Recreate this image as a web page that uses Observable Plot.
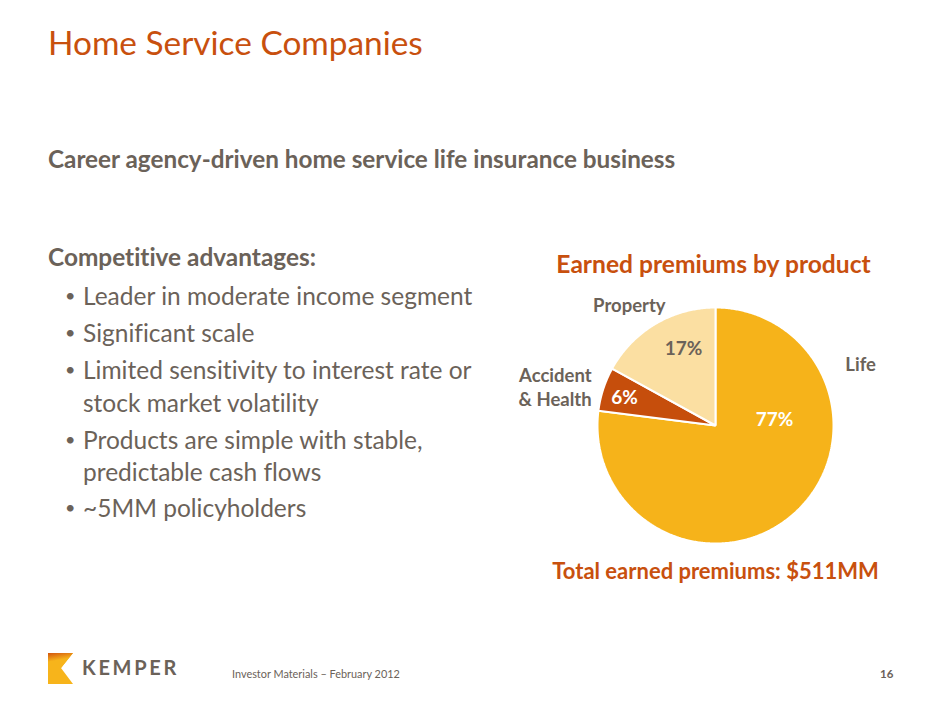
<!DOCTYPE html>
<html>
<head>
<meta charset="utf-8">
<script src="https://cdn.jsdelivr.net/npm/d3@7"></script>
<script src="https://cdn.jsdelivr.net/npm/@observablehq/plot@0.6"></script>
<style>
  html, body { margin: 0; padding: 0; background: #fff; }
  body { width: 940px; height: 705px; position: relative; overflow: hidden; font-family: Lato, "Open Sans", sans-serif; color: #6B6259; font-variant-ligatures: none; }
  .abs { position: absolute; white-space: nowrap; line-height: 1.2; }
  .title { left: 48px; top: 21.7px; font-size: 33.4px; color: #C8500E; font-weight: 400; }
  .sub { left: 48px; top: 143.8px; font-size: 24.3px; font-weight: 700; }
  .head { left: 48px; top: 241.7px; font-size: 24.4px; font-weight: 700; }
  .line { font-size: 24.5px; left: 83px; }
  .bul { font-size: 18px; left: 65px; }
  .ctitle { left: 500px; width: 427px; text-align: center; top: 248.6px; font-size: 24.6px; font-weight: 700; color: #C8500E; }
  .ctot { left: 500px; width: 431px; text-align: center; top: 558.3px; font-size: 22px; font-weight: 700; color: #C8500E; }
  .foot { left: 232px; top: 666.7px; font-size: 10.9px; }
  .page { left: 880px; top: 666.7px; font-size: 11.5px; font-weight: 700; }
  .kemper { left: 82px; top: 655px; font-size: 20px; letter-spacing: 2.7px; font-weight: 700; color: #6B6259; }
  #chart { position: absolute; left: 500px; top: 285px; }
</style>
</head>
<body>
<div class="abs title">Home Service Companies</div>
<div class="abs sub">Career agency-driven home service life insurance business</div>
<div class="abs head">Competitive advantages:</div>
<div id="bullets"></div>
<div class="abs ctitle">Earned premiums by product</div>
<div id="chart"></div>
<div class="abs ctot">Total earned premiums: $511MM</div>
<svg class="abs" style="left:0;top:0" width="80" height="705" viewBox="0 0 80 705">
  <defs>
    <linearGradient id="lg" x1="0" y1="0" x2="0.3" y2="1">
      <stop offset="0" stop-color="#D2540E"/>
      <stop offset="0.55" stop-color="#F7B41B"/>
      <stop offset="1" stop-color="#F7B41B"/>
    </linearGradient>
  </defs>
  <polygon points="48,653 73,653 61,668 73,684 48,684" fill="#F7B41B"/>
  <polygon points="48,653 73,653 61,668 48,668" fill="url(#lg)"/>
</svg>
<div class="abs kemper">KEMPER</div>
<div class="abs foot">Investor Materials – February 2012</div>
<div class="abs page">16</div>
<script>
// ---- data ----
const categories = ["Life", "Accident & Health", "Property"];
const shares = [77, 6, 17];
const pctLabels = ["77%", "6%", "17%"];
const sliceColors = ["#F6B31A", "#C64E0C", "#FBDFA2"];
const bulletLines = [
  ["•", "Leader in moderate income segment"],
  ["•", "Significant scale"],
  ["•", "Limited sensitivity to interest rate or"],
  ["", "stock market volatility"],
  ["•", "Products are simple with stable,"],
  ["", "predictable cash flows"],
  ["•", "~5MM policyholders"]
];

// ---- layout (not data) ----
const bulletCenters = [297, 334, 371, 404, 441, 473, 509];
const R = 118, W = 400, H = 275, CX = 215, CY = 140;
const pctPos = {"Life": [0.5, 0.05], "Accident & Health": [-0.77, 0.23], "Property": [-0.27, 0.65]};
const pctColor = {"Life": "white", "Accident & Health": "white", "Property": "#6B6259"};
const namePos = {"Life": [1.23, 0.53], "Accident & Health": [-1.05, 0.33], "Property": [-0.73, 1.03]};
const nameText = {"Life": "Life", "Accident & Health": "Accident\n& Health", "Property": "Property"};

const bl = document.getElementById("bullets");
bulletLines.forEach(([b, t], i) => {
  const top = bulletCenters[i] - 16.3;
  if (b) { const d = document.createElement("div"); d.className = "abs bul"; d.style.top = (bulletCenters[i] - 12) + "px"; d.textContent = b; bl.appendChild(d); }
  const d = document.createElement("div"); d.className = "abs line"; d.style.top = top + "px"; d.textContent = t; bl.appendChild(d);
});

// build wedges from data (clockwise from 12 o'clock)
const arcs = d3.pie().sort(null).value((d, i) => shares[i])(categories);
const pts = [];
arcs.forEach((a, i) => {
  const name = categories[i];
  pts.push({name, x: 0, y: 0});
  const n = Math.max(4, Math.ceil((a.endAngle - a.startAngle) / 0.01));
  for (let k = 0; k <= n; k++) {
    const t = a.startAngle + (a.endAngle - a.startAngle) * k / n;
    pts.push({name, x: Math.sin(t), y: Math.cos(t)});
  }
});

const nameMark = (cats, anchor) => Plot.text(cats, {
  x: d => namePos[d][0], y: d => namePos[d][1], text: d => nameText[d],
  textAnchor: anchor, fill: "#6B6259", fontSize: 18.5, fontWeight: 700, lineHeight: 1.3
});

const chart = Plot.plot({
  width: W, height: H, margin: 0,
  x: {domain: [-CX / R, (W - CX) / R], axis: null},
  y: {domain: [-(H - CY) / R, CY / R], axis: null},
  color: {domain: categories, range: sliceColors},
  style: {fontFamily: "Lato, 'Open Sans', sans-serif", background: "transparent", overflow: "visible"},
  marks: [
    Plot.line(pts, {x: "x", y: "y", z: "name", fill: "name", stroke: "white", strokeWidth: 2, curve: "linear-closed", strokeLinejoin: "miter"}),
    Plot.text(categories, {x: d => pctPos[d][0], y: d => pctPos[d][1], text: (d) => pctLabels[categories.indexOf(d)], fill: d => pctColor[d], fontSize: 19, fontWeight: 700}),
    nameMark(["Life", "Property"], "middle"),
    nameMark(["Accident & Health"], "end")
  ]
});
document.getElementById("chart").appendChild(chart);
</script>
</body>
</html>
